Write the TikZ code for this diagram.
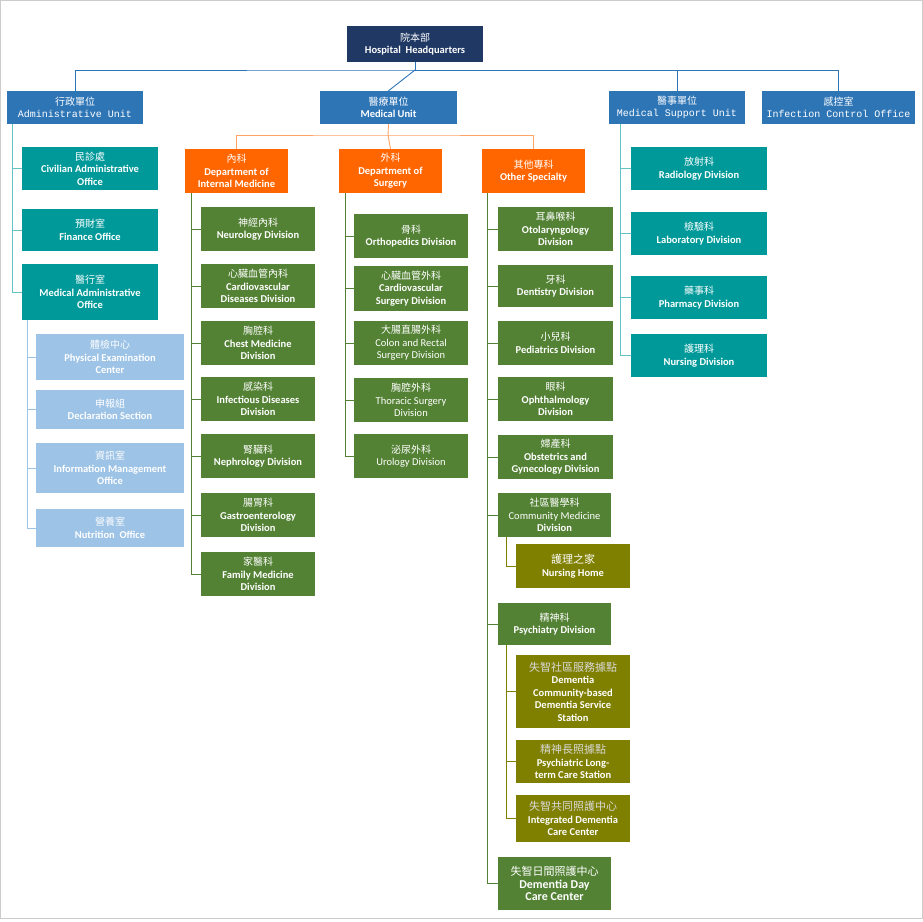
\documentclass[tikz,border=0pt]{standalone}
\usepackage{fontspec}
\setmainfont{Carlito}
\newfontfamily\cjk{Noto Sans CJK TC}
\newfontfamily\mono{Liberation Mono}
\definecolor{navy}{HTML}{1F3864}
\definecolor{mblue}{HTML}{2E75B6}
\definecolor{teal2}{HTML}{009999}
\definecolor{lblue}{HTML}{9DC3E6}
\definecolor{orng}{HTML}{FF6600}
\definecolor{grn}{HTML}{548235}
\definecolor{olv}{HTML}{7F7F00}
\newcommand\zh[1]{{\cjk\fontsize{10}{12}\selectfont #1}}
\newcommand\bx[7]{\node[box,fill=#2,minimum width={(#4-#3)*1pt},minimum height={(#6-#5)*1pt}] (#1) at ({(#3+#4)/2},{(#5+#6)/2}) {#7};}
\tikzset{box/.style={inner sep=1pt,text=white,align=center,font=\fontsize{10.5}{12.5}\selectfont},
 ln/.style={line width=0.9pt}}
\begin{document}
\begin{tikzpicture}[x=1pt,y=-1pt]
\useasboundingbox (0,0) rectangle (923,921);
\draw[gray!40] (0.5,0.5) rectangle (922.5,918.5);
% top
\bx{hq}{navy}{347}{483}{26}{62}{\zh{院本部}\\\textbf{Hospital\ \ Headquarters}}
\bx{adm}{mblue}{7}{143}{91}{124}{\zh{行政單位}\\{\mono\fontsize{10}{12}\selectfont Administrative Unit}}
\bx{med}{mblue}{320}{457}{91}{124}{\zh{醫療單位}\\\textbf{Medical Unit}}
\bx{sup}{mblue}{609}{745}{91}{124}{\zh{醫事單位}\\{\mono\fontsize{10}{12}\selectfont Medical Support Unit}}
\bx{inf}{mblue}{762}{915}{91}{124}{\zh{感控室}\\{\mono\fontsize{10}{12}\selectfont Infection Control Office}}
\coordinate (t0) at (415,70);
\draw[ln,mblue] (hq.south) -- (t0);
\draw[ln,mblue] (adm.north) |- (t0) -| (inf.north);
\draw[ln,mblue] (t0) -- (med.north);
\draw[ln,mblue] (t0) -| (sup.north);
% admin
\bx{civ}{teal2}{22}{158}{147}{190}{\zh{民診處}\\\textbf{Civilian Administrative}\\\textbf{Office}}
\bx{fin}{teal2}{22}{158}{209}{251}{\zh{預財室}\\\textbf{Finance Office}}
\bx{mad}{teal2}{22}{158}{264}{320}{\zh{醫行室}\\\textbf{Medical Administrative}\\\textbf{Office}}
\coordinate (a0) at (12,124);
\foreach \n in {civ,fin,mad} \draw[ln,teal2!60] (a0) |- (\n.west);
\bx{phy}{lblue}{36}{184}{334}{380}{\zh{體檢中心}\\\textbf{Physical Examination}\\\textbf{Center}}
\bx{dec}{lblue}{36}{184}{390}{429}{\zh{申報組}\\\textbf{Declaration Section}}
\bx{inm}{lblue}{36}{184}{443}{493}{\zh{資訊室}\\\textbf{Information Management}\\\textbf{Office}}
\bx{nut}{lblue}{36}{184}{509}{547}{\zh{營養室}\\\textbf{Nutrition\ \ Office}}
\coordinate (b0) at (27,320);
\foreach \n in {phy,dec,inm,nut} \draw[ln,lblue] (b0) |- (\n.west);
% support
\bx{rad}{teal2}{631}{767}{147}{190}{\zh{放射科}\\\textbf{Radiology Division}}
\bx{lab}{teal2}{631}{767}{212}{255}{\zh{檢驗科}\\\textbf{Laboratory Division}}
\bx{pha}{teal2}{631}{767}{276}{319}{\zh{藥事科}\\\textbf{Pharmacy Division}}
\bx{nur}{teal2}{631}{767}{334}{377}{\zh{護理科}\\\textbf{Nursing Division}}
\coordinate (s0) at (620,124);
\foreach \n in {rad,lab,pha,nur} \draw[ln,teal2!60] (s0) |- (\n.west);
% medical
\bx{int}{orng}{185}{288}{149}{193}{\zh{內科}\\\textbf{Department of}\\\textbf{Internal Medicine}}
\bx{sur}{orng}{339}{442}{149}{193}{\zh{外科}\\\textbf{Department of}\\\textbf{Surgery}}
\bx{oth}{orng}{482}{585}{149}{193}{\zh{其他專科}\\\textbf{Other Specialty}}
\coordinate (m0) at (388,135);
\draw[ln,orng!60] (med.south) -- (m0);
\draw[ln,orng!60] (int.north) |- (m0) -| (oth.north);
\draw[ln,orng!60] (m0) -- (sur.north);
% internal
\bx{neu}{grn}{201}{315}{207}{251}{\zh{神經內科}\\\textbf{Neurology Division}}
\bx{car}{grn}{201}{315}{264}{308}{\zh{心臟血管內科}\\\textbf{Cardiovascular}\\\textbf{Diseases Division}}
\bx{che}{grn}{201}{315}{321}{365}{\zh{胸腔科}\\\textbf{Chest Medicine}\\\textbf{Division}}
\bx{ifd}{grn}{201}{315}{377}{421}{\zh{感染科}\\\textbf{Infectious Diseases}\\\textbf{Division}}
\bx{nep}{grn}{201}{315}{434}{478}{\zh{腎臟科}\\\textbf{Nephrology Division}}
\bx{gas}{grn}{201}{315}{493}{537}{\zh{腸胃科}\\\textbf{Gastroenterology}\\\textbf{Division}}
\bx{fam}{grn}{201}{315}{552}{596}{\zh{家醫科}\\\textbf{Family Medicine}\\\textbf{Division}}
\coordinate (i0) at (191,193);
\foreach \n in {neu,car,che,ifd,nep,gas,fam} \draw[ln,grn] (i0) |- (\n.west);
% surgery
\bx{ort}{grn}{354}{468}{214}{258}{\zh{骨科}\\\textbf{Orthopedics Division}}
\bx{cvs}{grn}{354}{468}{266}{311}{\zh{心臟血管外科}\\\textbf{Cardiovascular}\\\textbf{Surgery Division}}
\bx{col}{grn}{354}{468}{321}{365}{\zh{大腸直腸外科}\\Colon and Rectal\\Surgery Division}
\bx{tho}{grn}{354}{468}{378}{422}{\zh{胸腔外科}\\Thoracic Surgery\\Division}
\bx{uro}{grn}{354}{468}{434}{478}{\zh{泌尿外科}\\Urology Division}
\coordinate (u0) at (345,193);
\foreach \n in {ort,cvs,col,tho,uro} \draw[ln,grn] (u0) |- (\n.west);
% other
\bx{ent}{grn}{498}{613}{207}{251}{\zh{耳鼻喉科}\\\textbf{Otolaryngology}\\\textbf{Division}}
\bx{den}{grn}{498}{613}{265}{307}{\zh{牙科}\\\textbf{Dentistry Division}}
\bx{ped}{grn}{498}{613}{321}{365}{\zh{小兒科}\\\textbf{Pediatrics Division}}
\bx{oph}{grn}{498}{613}{377}{421}{\zh{眼科}\\\textbf{Ophthalmology}\\\textbf{Division}}
\bx{obg}{grn}{498}{613}{435}{479}{\zh{婦產科}\\\textbf{Obstetrics and}\\\textbf{Gynecology Division}}
\bx{com}{grn}{498}{611}{493}{537}{\zh{社區醫學科}\\Community Medicine\\\textbf{Division}}
\bx{psy}{grn}{498}{611}{603}{645}{\zh{精神科}\\\textbf{Psychiatry Division}}
\bx{dday}{grn}{498}{611}{857}{910}{{\cjk\fontsize{11}{13}\selectfont 失智日間照護中心}\\\textbf{\fontsize{12}{14}\selectfont Dementia Day}\\\textbf{\fontsize{12}{14}\selectfont Care Center}}
\coordinate (o0) at (487,193);
\foreach \n in {ent,den,ped,oph,obg,com,psy,dday} \draw[ln,grn] (o0) |- (\n.west);
\bx{nh}{olv}{516}{630}{544}{588}{{\cjk\fontsize{11}{13}\selectfont 護理之家}\\\textbf{Nursing Home}}
\draw[ln,olv] (506,537) |- (nh.west);
\bx{dcs}{olv}{516}{630}{655}{728}{{\cjk\color{white!85!black}\fontsize{11}{13}\selectfont 失智社區服務據點}\\\textbf{Dementia}\\\textbf{Community-based}\\\textbf{Dementia Service}\\\textbf{Station}}
\bx{plt}{olv}{516}{630}{740}{783}{{\cjk\color{white!85!black}\fontsize{11}{13}\selectfont 精神長照據點}\\\textbf{Psychiatric Long-}\\\textbf{term Care Station}}
\bx{idc}{olv}{516}{630}{795}{842}{{\cjk\color{white!85!black}\fontsize{11}{13}\selectfont 失智共同照護中心}\\\textbf{Integrated Dementia}\\\textbf{Care Center}}
\coordinate (p0) at (506,645);
\foreach \n in {dcs,plt,idc} \draw[ln,olv] (p0) |- (\n.west);
\end{tikzpicture}
\end{document}
